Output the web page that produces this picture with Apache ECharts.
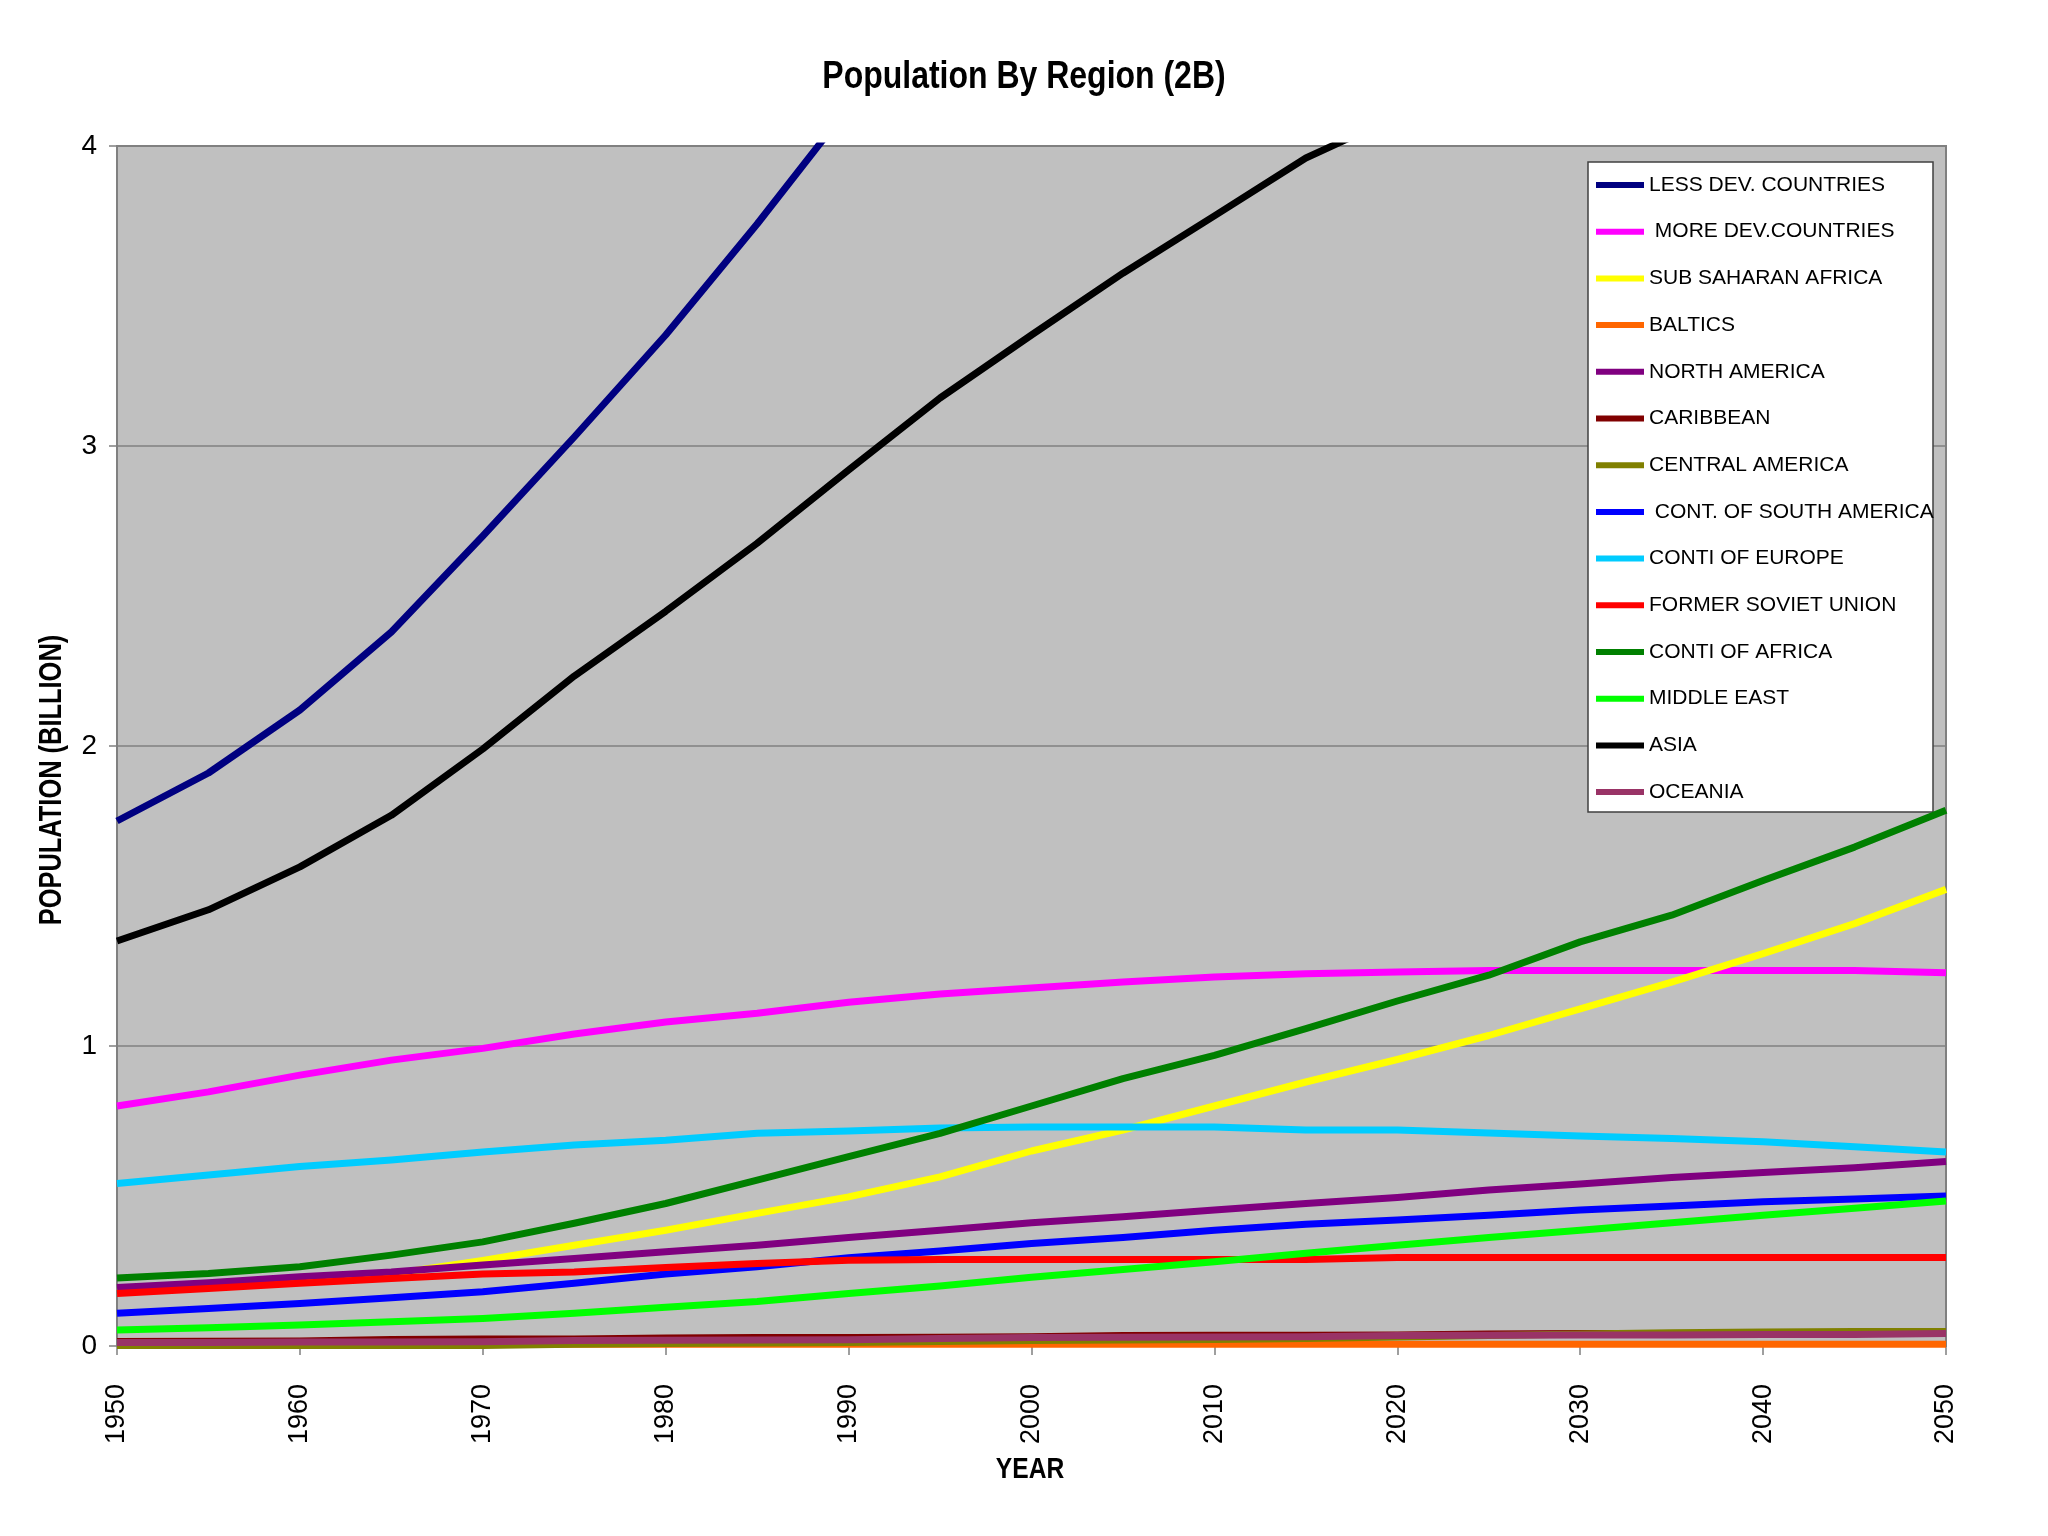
<!DOCTYPE html>
<html>
<head>
    <meta charset="utf-8">
    <title>Population By Region (2B)</title>
    <script src="https://cdn.jsdelivr.net/npm/echarts@6/dist/echarts.min.js"></script>
    <style>
        html, body { margin: 0; padding: 0; background: #fff; }
        #chart { width: 2048px; height: 1536px; }
    </style>
</head>
<body>
<div id="chart"></div>
<script type="text/javascript">
    // years on the x axis (every 5 years), values in billions
    var years = [1950, 1955, 1960, 1965, 1970, 1975, 1980, 1985, 1990, 1995, 2000,
                 2005, 2010, 2015, 2020, 2025, 2030, 2035, 2040, 2045, 2050];

    var lessDev      = [1.75, 1.91, 2.12, 2.38, 2.70, 3.03, 3.37, 3.74, 4.13, null, null,
                        null, null, null, null, null, null, null, null, null, null];
    var moreDev      = [0.80, 0.847, 0.903, 0.953, 0.992, 1.04, 1.08, 1.109, 1.146, 1.173, 1.193,
                        1.213, 1.23, 1.241, 1.247, 1.252, 1.252, 1.252, 1.252, 1.252, 1.244];
    var subSahara    = [0.18, 0.195, 0.215, 0.24, 0.285, 0.336, 0.386, 0.442, 0.497, 0.564, 0.65,
                        0.72, 0.80, 0.88, 0.955, 1.035, 1.124, 1.213, 1.308, 1.408, 1.522];
    var baltics      = [0.006, 0.006, 0.006, 0.006, 0.006, 0.006, 0.006, 0.006, 0.006, 0.006, 0.006,
                        0.006, 0.006, 0.006, 0.006, 0.006, 0.006, 0.006, 0.006, 0.006, 0.006];
    var northAmerica = [0.195, 0.211, 0.231, 0.247, 0.27, 0.292, 0.314, 0.336, 0.362, 0.386, 0.411,
                        0.431, 0.453, 0.475, 0.495, 0.52, 0.54, 0.562, 0.578, 0.594, 0.615];
    var caribbean    = [0.015, 0.016, 0.017, 0.022, 0.023, 0.023, 0.027, 0.028, 0.028, 0.029, 0.031,
                        0.035, 0.036, 0.036, 0.037, 0.040, 0.042, 0.042, 0.042, 0.042, 0.043];
    var centralAm    = [0.002, 0.002, 0.002, 0.002, 0.002, 0.006, 0.008, 0.010, 0.012, 0.015, 0.018,
                        0.020, 0.022, 0.025, 0.030, 0.035, 0.040, 0.044, 0.047, 0.048, 0.048];
    var southAm      = [0.109, 0.125, 0.142, 0.161, 0.181, 0.209, 0.24, 0.264, 0.294, 0.317, 0.342,
                        0.362, 0.386, 0.406, 0.42, 0.436, 0.453, 0.467, 0.481, 0.49, 0.50];
    var europe       = [0.542, 0.57, 0.598, 0.62, 0.647, 0.67, 0.686, 0.709, 0.717, 0.727, 0.73,
                        0.73, 0.73, 0.72, 0.72, 0.71, 0.70, 0.692, 0.681, 0.664, 0.647];
    var sovietUnion  = [0.175, 0.192, 0.209, 0.225, 0.24, 0.247, 0.262, 0.275, 0.286, 0.288, 0.288,
                        0.288, 0.288, 0.288, 0.295, 0.295, 0.295, 0.295, 0.295, 0.295, 0.295];
    var africa       = [0.227, 0.242, 0.264, 0.303, 0.347, 0.409, 0.475, 0.553, 0.631, 0.709, 0.80,
                        0.891, 0.969, 1.058, 1.15, 1.236, 1.347, 1.436, 1.552, 1.663, 1.786];
    var middleEast   = [0.053, 0.061, 0.07, 0.081, 0.092, 0.109, 0.129, 0.148, 0.175, 0.2, 0.229,
                        0.255, 0.281, 0.309, 0.336, 0.362, 0.386, 0.411, 0.436, 0.459, 0.483];
    var asia         = [1.35, 1.454, 1.597, 1.769, 1.99, 2.233, 2.449, 2.676, 2.92, 3.16, 3.37,
                        3.576, 3.767, 3.96, 4.10, null, null, null, null, null, null];
    var oceania      = [0.012, 0.012, 0.013, 0.013, 0.014, 0.018, 0.019, 0.020, 0.021, 0.025, 0.028,
                        0.029, 0.030, 0.031, 0.035, 0.036, 0.037, 0.037, 0.038, 0.038, 0.042];

    var names = ['LESS DEV. COUNTRIES', ' MORE DEV.COUNTRIES', 'SUB SAHARAN AFRICA', 'BALTICS',
                 'NORTH AMERICA', 'CARIBBEAN', 'CENTRAL AMERICA', ' CONT. OF SOUTH AMERICA',
                 'CONTI OF EUROPE', 'FORMER SOVIET UNION', 'CONTI OF AFRICA', 'MIDDLE EAST',
                 'ASIA', 'OCEANIA'];
    var colors = ['#000080', '#ff00ff', '#ffff00', '#ff6600', '#800080', '#800000', '#808000',
                  '#0000ff', '#00ccff', '#ff0000', '#008000', '#00ff00', '#000000', '#993366'];
    var values = [lessDev, moreDev, subSahara, baltics, northAmerica, caribbean, centralAm,
                  southAm, europe, sovietUnion, africa, middleEast, asia, oceania];

    var sans = "'Liberation Sans', Arial, sans-serif";

    var series = [];
    for (var i = 0; i < names.length; i++) {
        var pts = [];
        for (var j = 0; j < years.length; j++) {
            if (values[i][j] != null) pts.push([years[j], values[i][j]]);
        }
        series.push({
            name: names[i],
            type: 'line',
            data: pts,
            symbol: 'none',
            clip: true,
            lineStyle: { color: colors[i], width: 7, join: 'round' },
            itemStyle: { color: colors[i] }
        });
    }

    var myChart = echarts.init(document.getElementById('chart'));
    myChart.setOption({
        animation: false,
        backgroundColor: '#ffffff',
        grid: {
            left: 117, top: 146, width: 1829, height: 1200,
            show: true,
            backgroundColor: '#c0c0c0',
            borderColor: '#808080',
            borderWidth: 2
        },
        legend: {
            orient: 'vertical',
            left: 1596,
            top: 170,
            padding: 0,
            itemGap: 16.7,
            itemWidth: 48,
            itemHeight: 6,
            icon: 'rect',
            selectedMode: false,
            textStyle: { fontFamily: sans, fontSize: 21, lineHeight: 30, color: '#000' },
            data: names
        },
        graphic: [{
            // legend box
            type: 'rect',
            z: 3,
            shape: { x: 1588, y: 162, width: 345, height: 650 },
            style: { fill: '#ffffff', stroke: '#404040', lineWidth: 1.5 }
        }, {
            // title, condensed like the original
            type: 'text',
            x: 1024, y: 77,
            scaleX: 0.82,
            style: {
                text: 'Population By Region (2B)',
                align: 'center', verticalAlign: 'middle',
                font: 'bold 39px ' + sans, fill: '#000'
            }
        }, {
            type: 'text',
            x: 52, y: 780,
            rotation: Math.PI / 2,
            scaleX: 0.82,
            style: {
                text: 'POPULATION (BILLION)',
                align: 'center', verticalAlign: 'middle',
                font: 'bold 31px ' + sans, fill: '#000'
            }
        }, {
            type: 'text',
            x: 1030, y: 1470,
            scaleX: 0.82,
            style: {
                text: 'YEAR',
                align: 'center', verticalAlign: 'middle',
                font: 'bold 30px ' + sans, fill: '#000'
            }
        }],
        xAxis: {
            type: 'value',
            min: 1950,
            max: 2050,
            interval: 10,
            axisLine: { lineStyle: { color: '#808080', width: 2 } },
            axisTick: { show: true, length: 9, lineStyle: { color: '#808080', width: 1.5 } },
            axisLabel: {
                rotate: 90,
                margin: 38,
                fontFamily: sans,
                fontSize: 27,
                color: '#000',
                formatter: function (v) { return String(v); }
            },
            splitLine: { show: false }
        },
        yAxis: {
            type: 'value',
            min: 0,
            max: 4,
            interval: 1,
            axisLine: { show: true, lineStyle: { color: '#808080', width: 2 } },
            axisTick: { show: true, length: 8, lineStyle: { color: '#808080', width: 1.5 } },
            axisLabel: { margin: 20, fontFamily: sans, fontSize: 28, color: '#000' },
            splitLine: { show: true, lineStyle: { color: '#808080', width: 1.5 } }
        },
        series: series
    });
</script>
</body>
</html>
